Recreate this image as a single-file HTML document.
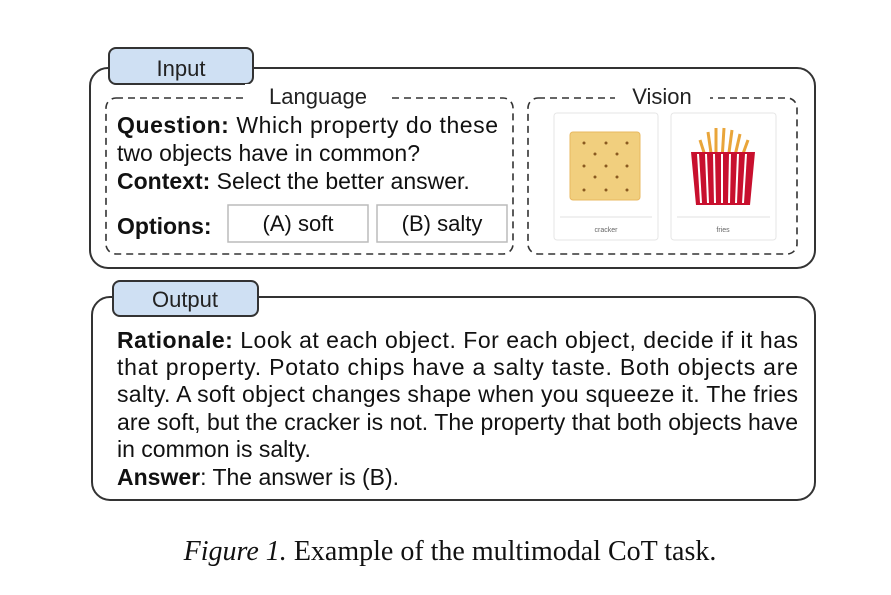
<!DOCTYPE html>
<html><head><meta charset="utf-8"><style>
body{margin:0;background:#fff;}
svg{display:block;font-family:"Liberation Sans",sans-serif;}
</style></head><body>
<svg width="891" height="595" viewBox="0 0 891 595" xmlns="http://www.w3.org/2000/svg">
<!-- Input box -->
<rect x="90" y="68" width="725" height="200" rx="18" fill="#fff" stroke="#333" stroke-width="2"/>
<rect x="109" y="48" width="144" height="36" rx="7" fill="#cfe0f3" stroke="#333" stroke-width="2"/>
<text x="181" y="76" font-size="22" text-anchor="middle" fill="#222">Input</text>
<!-- Language -->
<rect x="106" y="98" width="407" height="156" rx="10" fill="none" stroke="#333" stroke-width="1.6" stroke-dasharray="7,5"/>
<rect x="245" y="84" width="145" height="24" fill="#fff"/>
<text x="318" y="104" font-size="22" text-anchor="middle" fill="#222">Language</text>
<g font-size="23" fill="#111">
<text x="117" y="133" textLength="381" lengthAdjust="spacing"><tspan font-weight="bold">Question:</tspan> Which property do these</text>
<text x="117" y="161">two objects have in common?</text>
<text x="117" y="189"><tspan font-weight="bold">Context:</tspan> Select the better answer.</text>
<text x="117" y="234" font-weight="bold">Options:</text>
</g>
<rect x="228" y="205" width="140" height="37" fill="#fff" stroke="#bbb" stroke-width="1.5"/>
<text x="298" y="231" font-size="22" text-anchor="middle" fill="#111">(A) soft</text>
<rect x="377" y="205" width="130" height="37" fill="#fff" stroke="#bbb" stroke-width="1.5"/>
<text x="442" y="231" font-size="22" text-anchor="middle" fill="#111">(B) salty</text>
<!-- Vision -->
<rect x="528" y="98" width="269" height="156" rx="10" fill="none" stroke="#333" stroke-width="1.6" stroke-dasharray="7,5"/>
<rect x="615" y="84" width="95" height="24" fill="#fff"/>
<text x="662" y="104" font-size="22" text-anchor="middle" fill="#222">Vision</text>
<rect x="554" y="113" width="104" height="127" rx="3" fill="#fff" stroke="#e6e6e6"/>
<line x1="560" y1="217" x2="652" y2="217" stroke="#e2e2e2"/>
<text x="606" y="232" font-size="7" text-anchor="middle" fill="#666">cracker</text>
<rect x="570" y="132" width="70" height="68" rx="3" fill="#f1cf7e" stroke="#e8b860"/>
<g fill="#8a5a20">
<circle cx="584" cy="143" r="1.5"/><circle cx="606" cy="143" r="1.5"/><circle cx="627" cy="143" r="1.5"/>
<circle cx="595" cy="154" r="1.5"/><circle cx="617" cy="154" r="1.5"/>
<circle cx="584" cy="166" r="1.5"/><circle cx="606" cy="166" r="1.5"/><circle cx="627" cy="166" r="1.5"/>
<circle cx="595" cy="177" r="1.5"/><circle cx="617" cy="177" r="1.5"/>
<circle cx="584" cy="190" r="1.5"/><circle cx="606" cy="190" r="1.5"/><circle cx="627" cy="190" r="1.5"/>
</g>
<rect x="671" y="113" width="105" height="127" rx="3" fill="#fff" stroke="#e6e6e6"/>
<line x1="677" y1="217" x2="770" y2="217" stroke="#e2e2e2"/>
<text x="723" y="232" font-size="7" text-anchor="middle" fill="#666">fries</text>
<g stroke="#e9a53a" stroke-width="3">
<line x1="700" y1="140" x2="708" y2="165"/><line x1="708" y1="132" x2="712" y2="160"/><line x1="716" y1="128" x2="716" y2="160"/>
<line x1="724" y1="128" x2="722" y2="160"/><line x1="732" y1="130" x2="728" y2="160"/><line x1="740" y1="134" x2="734" y2="160"/><line x1="748" y1="140" x2="740" y2="162"/>
</g>
<path d="M691 152 L755 152 L750 205 L696 205 Z" fill="#c8102e"/>
<g stroke="#fff" stroke-width="2">
<line x1="698" y1="154" x2="701" y2="203"/><line x1="706" y1="154" x2="708" y2="203"/><line x1="714" y1="154" x2="715" y2="203"/>
<line x1="722" y1="154" x2="722" y2="203"/><line x1="730" y1="154" x2="729" y2="203"/><line x1="738" y1="154" x2="736" y2="203"/><line x1="746" y1="154" x2="743" y2="203"/>
</g>
<!-- Output -->
<rect x="92" y="297" width="723" height="203" rx="18" fill="#fff" stroke="#333" stroke-width="2"/>
<rect x="113" y="281" width="145" height="35" rx="7" fill="#cfe0f3" stroke="#333" stroke-width="2"/>
<text x="185" y="307" font-size="22" text-anchor="middle" fill="#222">Output</text>
<g font-size="23" fill="#111">
<text x="117" y="348" textLength="681" lengthAdjust="spacing"><tspan font-weight="bold">Rationale:</tspan> Look at each object. For each object, decide if it has</text>
<text x="117" y="375" textLength="681" lengthAdjust="spacing">that property. Potato chips have a salty taste. Both objects are</text>
<text x="117" y="402" textLength="681" lengthAdjust="spacing">salty. A soft object changes shape when you squeeze it. The fries</text>
<text x="117" y="430" textLength="681" lengthAdjust="spacing">are soft, but the cracker is not. The property that both objects have</text>
<text x="117" y="457">in common is salty.</text>
<text x="117" y="485"><tspan font-weight="bold">Answer</tspan>: The answer is (B).</text>
</g>
<text x="450" y="560" font-family="Liberation Serif,serif" font-size="28" text-anchor="middle" fill="#111"><tspan font-style="italic">Figure 1.</tspan> Example of the multimodal CoT task.</text>
</svg>
</body></html>
